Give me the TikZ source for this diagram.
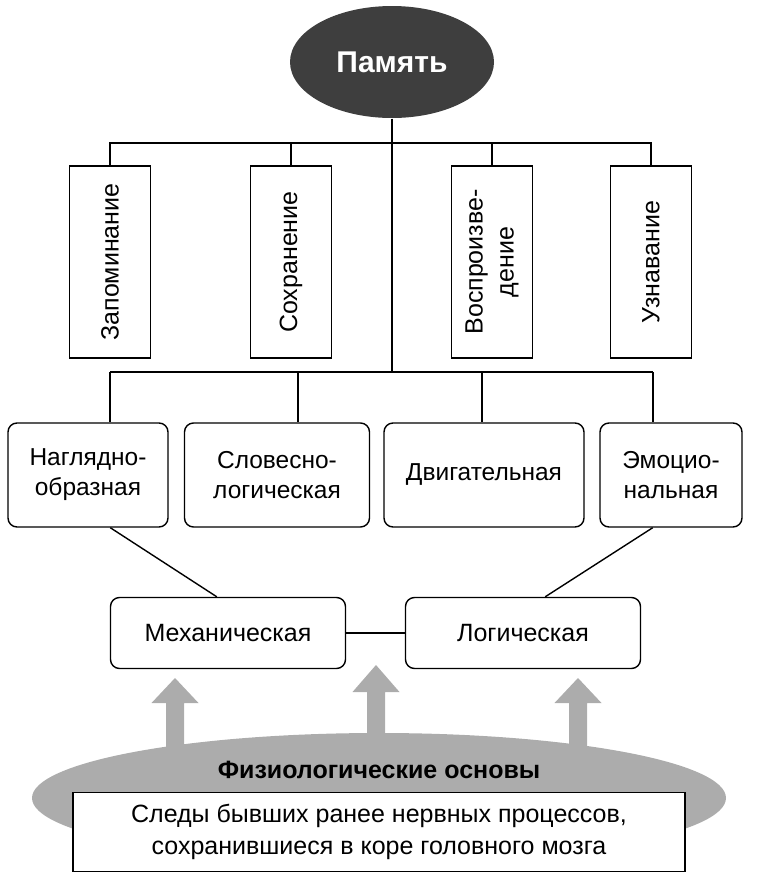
\documentclass[tikz,border=0pt]{standalone}
\usepackage{fontspec}
\setmainfont{Liberation Sans}
\usetikzlibrary{shapes.geometric}
\definecolor{memdark}{RGB}{62,62,62}
\definecolor{basegray}{RGB}{172,172,172}
\begin{document}
\begin{tikzpicture}[x=1pt, y=-1pt, line width=1.4pt,
    proc/.style={draw, minimum width=81pt, minimum height=192pt, inner sep=0pt,
      font=\fontsize{25}{31}\selectfont},
    kind/.style={draw, rounded corners=9pt, minimum height=104pt, inner sep=0pt,
      align=center, font=\fontsize{24.5}{30}\selectfont},
    way/.style={draw, rounded corners=9pt, minimum width=235pt, minimum height=71pt,
      inner sep=0pt, font=\fontsize{25}{30}\selectfont},
    uparrow/.style={fill=basegray}]
    \useasboundingbox (0,0) rectangle (758,884);
    % Память
    \node[ellipse, fill=memdark, minimum width=204pt, minimum height=112pt,
      text=white, font=\fontsize{30}{36}\selectfont\bfseries] (mem) at (392,62) {Память};
    % Процессы
    \node[proc] (zap) at (110,262) {\rotatebox{90}{Запоминание}};
    \node[proc] (sokh) at (291,262) {\rotatebox{90}{Сохранение}};
    \node[proc] (vosp) at (492,262) {\rotatebox{90}{\begin{tabular}{@{}c@{}}Воспроизве-\\дение\end{tabular}}};
    \node[proc] (uzn) at (651,262) {\rotatebox{90}{Узнавание}};
    % Виды
    \node[kind, minimum width=160pt] (nagl) at (88,475) {Наглядно-\\образная};
    \node[kind, minimum width=185pt] (slov) at (277,475) {Словесно-\\логическая};
    \node[kind, minimum width=200pt] (dvig) at (484,475) {Двигательная};
    \node[kind, minimum width=142pt] (emo) at (671,475) {Эмоцио-\\нальная};
    % Механическая и логическая
    \node[way] (mekh) at (228,633) {Механическая};
    \node[way] (logi) at (523,633) {Логическая};
    % Шины
    \coordinate (busup) at (392,143);
    \coordinate (busdown) at (392,372);
    \draw (mem.south) -- (busdown);
    \draw (zap.north) |- (busup) -| (uzn.north);
    \draw (sokh.north) -- (sokh.north |- busup);
    \draw (vosp.north) -- (vosp.north |- busup);
    \coordinate (s1) at (110,372);
    \coordinate (s2) at (298,372);
    \coordinate (s3) at (482,372);
    \coordinate (s4) at (653,372);
    \draw (s1) -- (s4);
    \foreach \s/\b in {s1/nagl, s2/slov, s3/dvig, s4/emo}
      \draw (\s) -- (\s |- \b.north);
    % Связи
    \draw ([xshift=103pt]nagl.south west) -- ([xshift=107pt]mekh.north west);
    \draw ([xshift=-90pt]emo.south east) -- ([xshift=-96pt]logi.north east);
    \draw (mekh) -- (logi);
    % Физиологические основы
    \fill[basegray] (379,798) ellipse (347pt and 65pt);
    \foreach \x/\t/\b in {175/678/703, 376/665/692, 578/678/703}
      \fill[uparrow] (\x-9,760) -- (\x-9,\b) -- (\x-23.5,\b) -- (\x,\t)
        -- (\x+23.5,\b) -- (\x+9,\b) -- (\x+9,760) -- cycle;
    \node[font=\fontsize{25}{30}\selectfont\bfseries] (phys) at (379,770) {Физиологические основы};
    \node[draw, fill=white, minimum width=612pt, minimum height=79pt, align=center,
      font=\fontsize{25}{32}\selectfont] (trace) at (379,832)
      {Следы бывших ранее нервных процессов,\\сохранившиеся в коре головного мозга};
\end{tikzpicture}
\end{document}
